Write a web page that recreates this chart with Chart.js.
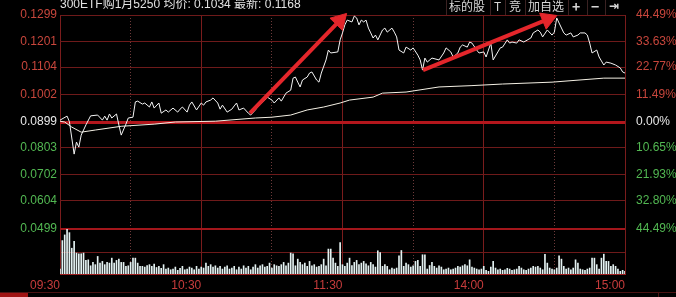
<!DOCTYPE html>
<html><head><meta charset="utf-8">
<script src="https://cdn.jsdelivr.net/npm/chart.js@4"></script>
<style>
html,body{margin:0;padding:0;background:#000;overflow:hidden}
#wrap{position:relative;width:676px;height:297px;background:#000;overflow:hidden}
#c{position:absolute;left:0;top:0}
.t{position:absolute;white-space:nowrap;font:12px "Liberation Sans","Noto Sans CJK SC",sans-serif;line-height:14px;color:#e2e2e2}
.b{position:absolute;white-space:nowrap;font:12px "Noto Sans CJK SC","Liberation Sans",sans-serif;line-height:14px;color:#d6d6d6;top:-1px}
.sep{position:absolute;top:0;width:1px;height:15px;background:#3a2222}
</style></head>
<body><div id="wrap">
<canvas id="c" width="676" height="297"></canvas>
<div class="t" style="left:60px;top:-3px">300ETF购1月5250 均价: 0.1034 最新: 0.1168</div>
<div class="sep" style="left:446px"></div>
<div class="b" style="left:449px">标的股</div>
<div class="sep" style="left:490px"></div>
<div class="b" style="left:494px">T</div>
<div class="sep" style="left:505px"></div>
<div class="b" style="left:509px">竞</div>
<div class="sep" style="left:525px"></div>
<div class="b" style="left:528px">加自选</div>
<div class="sep" style="left:568px"></div>
<div class="b" style="left:572px;font-weight:bold;font-size:14px">+</div>
<div class="sep" style="left:587px"></div>
<div class="b" style="left:591px;font-weight:bold;font-size:14px">−</div>
<div class="sep" style="left:605px"></div>
<div class="b" style="left:609px;font-family:'DejaVu Sans';font-weight:bold">⇥</div>
<div style="position:absolute;left:0;top:292px;width:676px;height:1px;background:#4a1212"></div>
<div style="position:absolute;left:0;top:293px;width:28px;height:4px;background:#a01414"></div>
<div style="position:absolute;left:658px;top:293px;width:1px;height:4px;background:#4a1212"></div>
</div>
<script>
const timeTicks = [0, 60, 120, 180, 240];
const timeLabels = ['09:30', '10:30', '11:30', '14:00', '15:00'];
const halfHourTicks = [30, 90, 150, 210];
const priceTicks = [0.1299, 0.1201, 0.1104, 0.1002, 0.0899, 0.0803, 0.0702, 0.0604, 0.0499];
const pctLabels = ['44.49%', '33.63%', '22.77%', '11.49%', '0.00%', '10.65%', '21.93%', '32.80%', '44.49%'];
const volTicks = [759];

const priceMinutes = [0,3,4,6,7,8,9,11,13,16,18,19,20,21,22,24,25,26,28,29,31,32,33,35,36,38,39,40,42,43,45,46,48,50,51,52,54,55,56,58,60,61,62,64,65,67,68,69,71,73,74,75,76,78,80,81,83,84,86,87,88,90,91,93,94,96,98,99,100,101,102,103,105,106,107,109,110,111,113,114,115,118,119,120,121,122,124,125,126,127,128,129,130,131,132,133,134,135,137,138,139,141,142,143,144,146,147,149,150,152,153,154,155,156,158,161,163,164,166,167,169,170,171,173,174,175,177,178,180,181,183,184,186,187,188,190,191,192,194,195,197,200,201,203,204,205,207,209,210,211,212,214,215,217,218,220,221,223,224,225,226,228,229,231,232,234,236,238,239,240];
const priceValues = [0.0906,0.0921,0.0900,0.0779,0.0824,0.0805,0.0850,0.0888,0.0922,0.0925,0.0906,0.0921,0.0906,0.0929,0.0914,0.0929,0.0888,0.0850,0.0891,0.0914,0.0917,0.0974,0.0977,0.0966,0.0970,0.0955,0.0974,0.0951,0.0970,0.0932,0.0944,0.0936,0.0951,0.0936,0.0947,0.0955,0.0936,0.0962,0.0974,0.0944,0.0970,0.0962,0.0974,0.0981,0.0989,0.0970,0.0947,0.0962,0.0936,0.0947,0.0959,0.0970,0.0944,0.0951,0.0932,0.0925,0.0944,0.0955,0.0974,0.0981,0.0992,0.0981,0.0970,0.0989,0.0977,0.1007,0.1018,0.1063,0.1067,0.1048,0.1030,0.1056,0.1067,0.1082,0.1086,0.1056,0.1048,0.1082,0.1131,0.1168,0.1157,0.1161,0.1206,0.1232,0.1262,0.1280,0.1273,0.1295,0.1288,0.1262,0.1280,0.1273,0.1280,0.1250,0.1232,0.1213,0.1224,0.1206,0.1243,0.1250,0.1235,0.1250,0.1235,0.1217,0.1168,0.1157,0.1179,0.1168,0.1176,0.1149,0.1131,0.1093,0.1138,0.1123,0.1138,0.1131,0.1157,0.1176,0.1161,0.1142,0.1157,0.1179,0.1187,0.1179,0.1198,0.1194,0.1168,0.1157,0.1161,0.1142,0.1194,0.1131,0.1161,0.1176,0.1179,0.1206,0.1194,0.1198,0.1194,0.1206,0.1198,0.1213,0.1232,0.1243,0.1235,0.1217,0.1243,0.1224,0.1235,0.1288,0.1269,0.1232,0.1224,0.1232,0.1217,0.1224,0.1232,0.1232,0.1224,0.1194,0.1157,0.1168,0.1142,0.1112,0.1123,0.1119,0.1112,0.1101,0.1086,0.1082];

const avgMinutes = [0,2,5,9,15,26,40,49,66,83,90,98,105,112,119,123,133,137,147,161,175,188,209,231,240];
const avgValues = [0.0902,0.0899,0.0880,0.0861,0.0869,0.0883,0.0891,0.0899,0.0902,0.0914,0.0917,0.0925,0.0944,0.0955,0.0970,0.0981,0.0992,0.1007,0.1011,0.1030,0.1035,0.1041,0.1048,0.1063,0.1063];

const volumes = [176,1180,1380,1580,1460,910,1150,740,715,715,740,480,500,290,410,330,620,385,445,330,410,385,560,385,480,525,410,410,270,290,410,560,560,385,270,
270,245,300,330,270,350,230,270,200,330,175,210,150,175,245,130,200,270,150,175,245,210,150,270,175,245,210,385,270,330,245,290,210,270,175,245,290,175,210,270,150,245,175,290,210,270,150,245,330,210,290,330,245,270,385,210,330,290,270,330,410,290,385,740,715,290,525,410,330,385,270,445,290,330,245,270,330,525,290,880,880,560,385,270,1112,
328,270,385,560,300,410,480,330,385,445,360,290,410,330,245,820,760,270,330,270,150,210,175,210,645,830,270,385,330,245,290,445,480,270,680,680,175,300,410,270,210,290,245,150,175,210,150,175,210,270,245,290,330,290,500,245,210,175,150,175,270,130,95,245,445,210,150,175,130,150,200,175,130,150,175,270,210,150,130,175,210,270,245,270,210,150,690,385,210,175,150,210,640,525,270,175,210,150,210,500,385,175,150,130,175,210,560,560,330,175,560,700,445,445,270,330,270,175,95,130,95];

const arrow1Minutes = [80.7, 118.8];
const arrow1Prices = [0.0932, 0.1278];
const arrow2Minutes = [154.2, 207.1];
const arrow2Prices = [0.1093, 0.1283];

const PRICE_MIN = 0.03308, PRICE_MAX = 0.1299, VOL_MAX = 9143;
const RED = '#c8463c', GREEN = '#52b852', WHITE = '#e8e8e8', CYAN = '#7ab6d6';
const labelColor = i => i < 4 ? RED : (i === 4 ? WHITE : GREEN);
const FONT = {family: '"Liberation Sans", Arial, sans-serif', size: 12};

function arrowDataset(ms, ps) {
  return {
    type: 'line',
    data: ms.map((m, i) => ({x: m, y: ps[i]})),
    borderColor: '#e4262b',
    borderWidth: 4,
    pointStyle: 'triangle',
    pointRadius: ctx => ctx.dataIndex === 1 ? 10 : 0,
    pointBackgroundColor: '#e4262b',
    pointBorderColor: '#e4262b',
    pointBorderWidth: 1,
    pointRotation: ctx => {
      const ch = ctx.chart, xs = ch.scales.x, ys = ch.scales.y, d = ctx.dataset.data;
      const dx = xs.getPixelForValue(d[1].x) - xs.getPixelForValue(d[0].x);
      const dy = ys.getPixelForValue(d[1].y) - ys.getPixelForValue(d[0].y);
      return Math.atan2(dx, -dy) * 180 / Math.PI;
    },
    clip: false,
    xAxisID: 'x', yAxisID: 'y'
  };
}

new Chart(document.getElementById('c'), {
  type: 'line',
  data: {
    datasets: [
      arrowDataset(arrow1Minutes, arrow1Prices),
      arrowDataset(arrow2Minutes, arrow2Prices),
      {type: 'line', data: priceMinutes.map((m, i) => ({x: m, y: priceValues[i]})), borderColor: '#f4f4f4', borderWidth: 1, pointRadius: 0, xAxisID: 'x', yAxisID: 'y'},
      {type: 'line', data: avgMinutes.map((m, i) => ({x: m, y: avgValues[i]})), borderColor: '#f4f0e4', borderWidth: 1, pointRadius: 0, xAxisID: 'x', yAxisID: 'y'},
      {type: 'bar', data: volumes.map((v, i) => ({x: i, y: v})), backgroundColor: '#e4f2f2', barThickness: 1, xAxisID: 'x', yAxisID: 'yVol'}
    ]
  },
  options: {
    responsive: false, animation: false, devicePixelRatio: 1,
    layout: {padding: {top: 15, left: 0, right: 0, bottom: 0}},
    plugins: {legend: {display: false}, tooltip: {enabled: false}},
    scales: {
      x: {
        type: 'linear', min: 0, max: 240, position: 'bottom', weight: 1, offset: false,
        afterBuildTicks: s => { s.ticks = timeTicks.map(v => ({value: v})); },
        afterFit: s => { s.height = 23; },
        ticks: {autoSkip: false, maxRotation: 0, align: 'end', padding: 4, color: '#c83c3c', font: FONT,
          callback: (v, i) => timeLabels[i]},
        grid: {color: '#7a1c1c', lineWidth: 1, drawTicks: false, offset: false},
        border: {display: true, color: '#9a1c1c', width: 1}
      },
      x2: {
        type: 'linear', min: 0, max: 240, position: 'bottom', weight: 0, offset: false,
        afterBuildTicks: s => { s.ticks = halfHourTicks.map(v => ({value: v})); },
        afterFit: s => { s.height = 0; },
        ticks: {display: false},
        grid: {color: '#6e3a3a', lineWidth: 1, drawTicks: false, offset: false},
        border: {display: false, dash: [1, 2]}
      },
      y: {
        type: 'linear', position: 'left', weight: 1, min: PRICE_MIN, max: PRICE_MAX,
        afterBuildTicks: s => { s.ticks = priceTicks.map(v => ({value: v})); },
        afterFit: s => { s.width = 60; },
        ticks: {autoSkip: false, padding: 3, font: FONT, color: ctx => labelColor(ctx.index),
          callback: (v, i) => priceTicks[i].toFixed(4)},
        grid: {drawTicks: false,
          color: ctx => ctx.index === 4 ? '#b3161c' : (ctx.index === 8 ? '#a3161b' : '#6e1a1a'),
          lineWidth: ctx => ctx.index === 4 ? 3 : (ctx.index === 8 ? 2 : 1)},
        border: {display: false}
      },
      yVol: {
        type: 'linear', position: 'left', weight: 0, min: 0, max: VOL_MAX,
        afterBuildTicks: s => { s.ticks = volTicks.map(v => ({value: v})); },
        afterFit: s => { s.width = 0; },
        ticks: {autoSkip: false, padding: 3, font: FONT, color: CYAN, callback: v => String(v)},
        grid: {drawTicks: false, color: '#6e1a1a', lineWidth: 1},
        border: {display: false}
      },
      yPct: {
        type: 'linear', position: 'right', weight: 1, min: PRICE_MIN, max: PRICE_MAX,
        afterBuildTicks: s => { s.ticks = priceTicks.map(v => ({value: v})); },
        afterFit: s => { s.width = 51; },
        ticks: {autoSkip: false, padding: 3, font: FONT, color: ctx => labelColor(ctx.index),
          callback: (v, i) => pctLabels[i]},
        grid: {display: false},
        border: {display: false}
      },
      yVolR: {
        type: 'linear', position: 'right', weight: 0, min: 0, max: VOL_MAX,
        afterBuildTicks: s => { s.ticks = volTicks.map(v => ({value: v})); },
        afterFit: s => { s.width = 0; },
        ticks: {autoSkip: false, padding: 3, font: FONT, color: CYAN, callback: v => String(v)},
        grid: {display: false},
        border: {display: false}
      }
    }
  }
});
</script>
</body></html>
